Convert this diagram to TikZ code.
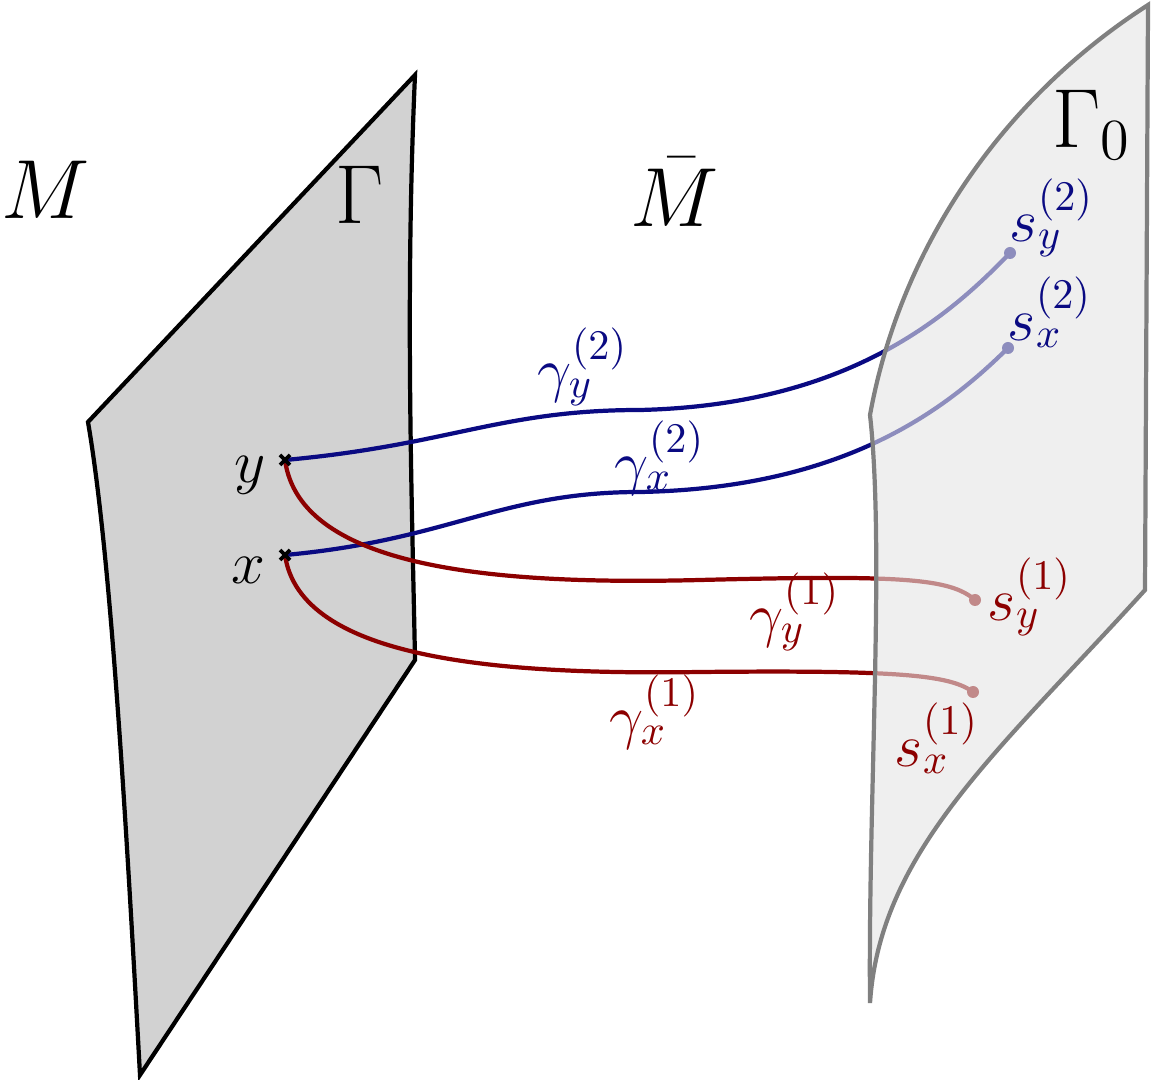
\documentclass[tikz,border=0pt]{standalone}
\usepackage{amsmath}
\usetikzlibrary{calc}
\definecolor{navy}{RGB}{10,10,130}
\definecolor{darkred}{RGB}{140,0,0}
\begin{document}
\begin{tikzpicture}[x=0.01cm,y=-0.01cm,
    path/.style={line width=1.2pt},
    lbl/.style={font=\Large},
    big/.style={font=\huge}]
    \useasboundingbox (0,0) rectangle (1161,1080);
    % plane Gamma
    \draw[fill=gray!35,line width=1.2pt] (415,75) .. controls (405,300) and (412,500) .. (415,660)
        -- (140,1075) .. controls (125,800) and (110,550) .. (88,422) -- cycle;
    % paths
    \coordinate (y) at (285,460);
    \coordinate (x) at (285,555);
    \coordinate (sy2) at (1010,253);
    \coordinate (sx2) at (1008,348);
    \coordinate (sy1) at (975,600);
    \coordinate (sx1) at (973,692);
    \draw[path,navy] (y) .. controls (450,445) and (500,410) .. (640,410) .. controls (850,405) and (950,315) .. (sy2);
    \draw[path,navy] (x) .. controls (450,540) and (500,492) .. (640,492) .. controls (850,488) and (950,405) .. (sx2);
    \draw[path,darkred] (y) .. controls (300,570) and (500,585) .. (700,580) .. controls (900,575) and (950,578) .. (sy1);
    \draw[path,darkred] (x) .. controls (300,660) and (500,675) .. (700,672) .. controls (900,670) and (950,675) .. (sx1);
    \fill[navy] (sy2) circle (6) (sx2) circle (6);
    \fill[darkred] (sy1) circle (6) (sx1) circle (6);
    % plane Gamma_0
    \draw[fill=gray!20,fill opacity=0.6,draw=gray,line width=1.2pt] (1148,5) -- (1145,590)
        .. controls (1000,750) and (880,850) .. (870,1003)
        .. controls (868,800) and (885,550) .. (870,415)
        .. controls (900,250) and (1000,100) .. cycle;
    % crosses
    \foreach \p in {x,y}
        \draw[line width=1.1pt] ($(\p)+(-5,-5)$) -- ($(\p)+(5,5)$) ($(\p)+(-5,5)$) -- ($(\p)+(5,-5)$);
    % labels
    \node[big,scale=1.15] (lM) at (46,190) {$M$};
    \node[big,scale=1.15] (lG) at (360,195) {$\Gamma$};
    \node[big,scale=1.15] (lMb) at (675,192) {$\bar M$};
    \node[big,scale=1.15] (lG0) at (1092,125) {$\Gamma_0$};
    \node[lbl,scale=1.2] (ly) at (250,475) {$y$};
    \node[lbl,scale=1.2] (lx) at (248,570) {$x$};
    \node[lbl,scale=1.2,navy] (lsy2) at (1052,218) {$s_y^{(2)}$};
    \node[lbl,scale=1.2,navy] (lsx2) at (1050,312) {$s_x^{(2)}$};
    \node[lbl,scale=1.2,darkred] (lsy1) at (1030,597) {$s_y^{(1)}$};
    \node[lbl,scale=1.2,darkred] (lsx1) at (937,738) {$s_x^{(1)}$};
    \node[lbl,scale=1.2,navy] (gy2) at (583,367) {$\gamma_y^{(2)}$};
    \node[lbl,scale=1.2,navy] (gx2) at (660,458) {$\gamma_x^{(2)}$};
    \node[lbl,scale=1.2,darkred] (gy1) at (795,612) {$\gamma_y^{(1)}$};
    \node[lbl,scale=1.2,darkred] (gx1) at (655,712) {$\gamma_x^{(1)}$};
\end{tikzpicture}
\end{document}
